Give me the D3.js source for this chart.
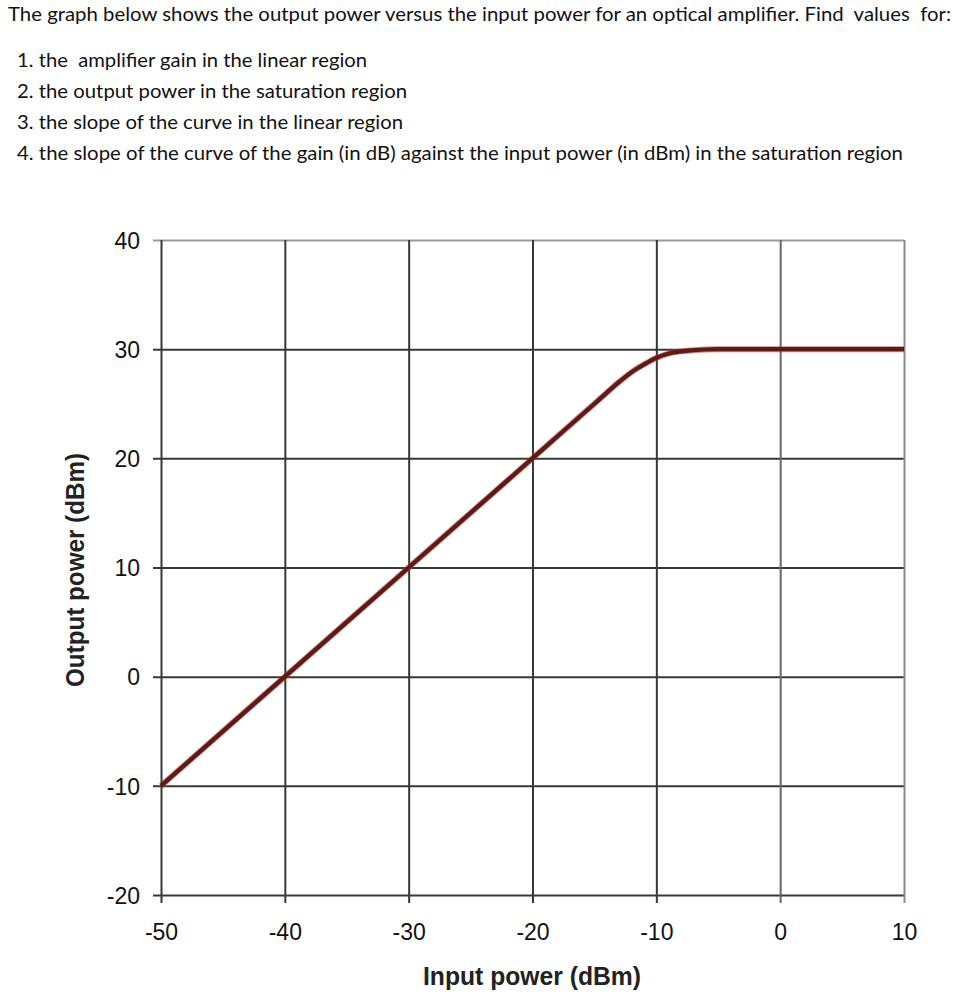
<!DOCTYPE html>
<html>
<head>
<meta charset="utf-8">
<script src="https://cdn.jsdelivr.net/npm/d3@7"></script>
<style>
  body { margin: 0; background: #fff; }
  svg { display: block; }
</style>
</head>
<body>
<svg id="chart" width="954" height="994"></svg>
<script>
// question text above the chart
var titleLine = 'The graph below shows the output power versus the input power for an optical amplifier. Find  values  for:';
var questions = [
    '1. the  amplifier gain in the linear region',
    '2. the output power in the saturation region',
    '3. the slope of the curve in the linear region',
    '4. the slope of the curve of the gain (in dB) against the input power (in dBm) in the saturation region'
];

// curve (dBm)
var inputPower  = [-50, -40, -30, -20, -15, -13, -12, -11, -10, -9, -8, -7, -6, -5, 0, 5, 10];
var outputPower = [-10, 0, 10, 20, 25, 27, 27.9, 28.6, 29.2, 29.6, 29.8, 29.9, 29.97, 30, 30, 30, 30];

var xTicks = [-50, -40, -30, -20, -10, 0, 10];
var yTicks = [-20, -10, 0, 10, 20, 30, 40];
var xTitle = 'Input power (dBm)';
var yTitle = 'Output power (dBm)';

var svg = d3.select('#chart');

// header text (keep the double spaces)
var titleWidths = [367 - 17, 407 - 17, 403 - 17, 903 - 17];
var questionY = [67, 98, 129, 160];
svg.append('text')
    .attr('x', 8).attr('y', 21)
    .attr('textLength', 943).attr('lengthAdjust', 'spacingAndGlyphs')
    .style('white-space', 'pre')
    .style('font-family', 'Lato, "Open Sans", sans-serif')
    .style('font-size', '19px')
    .style('fill', '#111')
    .text(titleLine);
svg.selectAll('text.question')
    .data(questions)
    .enter().append('text')
    .attr('class', 'question')
    .attr('x', 17)
    .attr('y', function(d, i) { return questionY[i]; })
    .attr('textLength', function(d, i) { return titleWidths[i]; })
    .attr('lengthAdjust', 'spacingAndGlyphs')
    .style('white-space', 'pre')
    .style('font-family', 'Lato, "Open Sans", sans-serif')
    .style('font-size', '19px')
    .style('fill', '#111')
    .text(function(d) { return d; });

// plot frame (don't call it "top", that's window.top)
var plotLeft = 161, plotRight = 904, plotTop = 240, plotBottom = 895;
var x = d3.scaleLinear().domain([-50, 10]).range([plotLeft, plotRight]);
var y = d3.scaleLinear().domain([-20, 40]).range([plotBottom, plotTop]);

var gridColor = '#383838';
var tickFont = '"Liberation Sans", Arial, sans-serif';
var plainNum = function(d) { return String(d); }; // hyphen, not unicode minus

// horizontal grid + y axis
var yAxis = svg.append('g')
    .attr('transform', 'translate(' + plotLeft + ',0)')
    .call(d3.axisLeft(y).tickValues(yTicks).tickFormat(plainNum).tickSizeOuter(0));
yAxis.select('.domain').remove();
yAxis.selectAll('.tick line')
    .attr('x1', -8).attr('x2', plotRight - plotLeft)
    .attr('stroke', function(d) { return d === 40 ? '#9a9a9a' : gridColor; })
    .attr('stroke-width', 2);
yAxis.selectAll('.tick text')
    .attr('x', -21).attr('dy', '0.36em')
    .style('font-family', tickFont)
    .style('font-size', '23px')
    .style('fill', '#111');

// vertical grid + x axis
var xAxis = svg.append('g')
    .attr('transform', 'translate(0,' + plotBottom + ')')
    .call(d3.axisBottom(x).tickValues(xTicks).tickFormat(plainNum).tickSizeOuter(0));
xAxis.select('.domain').remove();
xAxis.selectAll('.tick line')
    .attr('y1', plotTop - plotBottom).attr('y2', 8)
    .attr('stroke', function(d) { return d === 10 ? '#8a8a8a' : (d === 0 ? '#666' : gridColor); })
    .attr('stroke-width', 2);
xAxis.selectAll('.tick text')
    .attr('y', 0).attr('dy', 45)
    .style('font-family', tickFont)
    .style('font-size', '23px')
    .style('fill', '#111');

// axis titles
svg.append('text')
    .attr('x', 532).attr('y', 985)
    .attr('text-anchor', 'middle')
    .attr('textLength', 218).attr('lengthAdjust', 'spacingAndGlyphs')
    .style('font-family', tickFont)
    .style('font-weight', 'bold')
    .style('font-size', '26px')
    .style('fill', '#222')
    .text(xTitle);
svg.append('text')
    .attr('transform', 'translate(84,570) rotate(-90)')
    .attr('text-anchor', 'middle')
    .attr('textLength', 234).attr('lengthAdjust', 'spacingAndGlyphs')
    .style('font-family', tickFont)
    .style('font-weight', 'bold')
    .style('font-size', '26px')
    .style('fill', '#222')
    .text(yTitle);

// the curve
var points = inputPower.map(function(v, i) { return [v, outputPower[i]]; });
var line = d3.line()
    .x(function(d) { return x(d[0]); })
    .y(function(d) { return y(d[1]); })
    .curve(d3.curveMonotoneX);

svg.append('path')
    .datum(points)
    .attr('d', line)
    .attr('fill', 'none')
    .attr('stroke', '#b83a36')
    .attr('stroke-width', 6)
    .attr('stroke-opacity', 0.6);
svg.append('path')
    .datum(points)
    .attr('d', line)
    .attr('fill', 'none')
    .attr('stroke', '#5a1c19')
    .attr('stroke-width', 4.2);
</script>
</body>
</html>
